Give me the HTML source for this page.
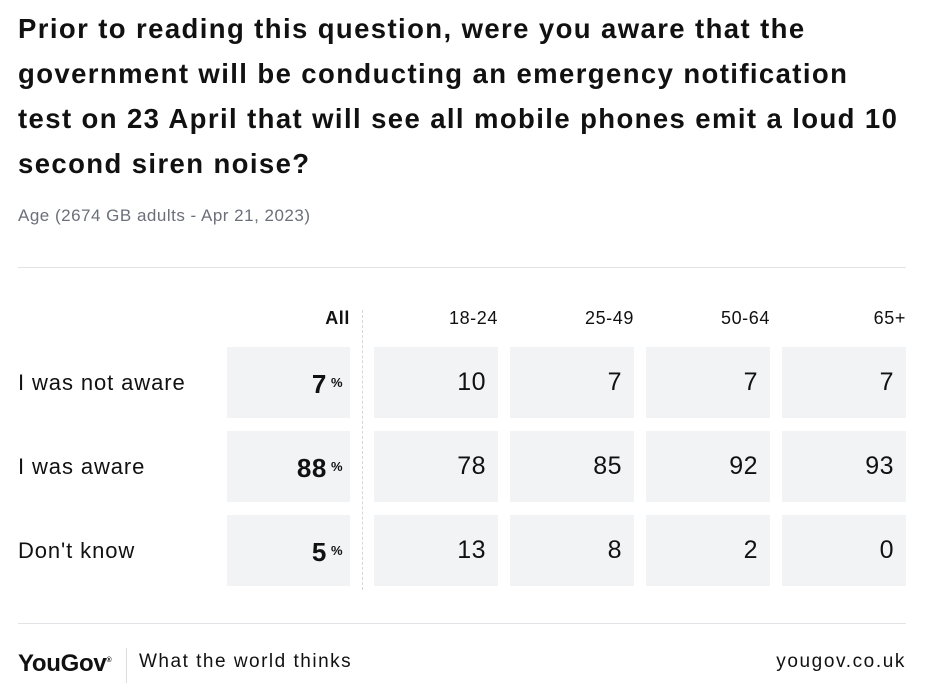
<!DOCTYPE html>
<html><head><meta charset="utf-8"><style>
body{margin:0;width:928px;height:693px;background:#fff;font-family:"Liberation Sans",sans-serif;color:#111;position:relative;overflow:hidden}
.a{position:absolute}
h1{position:absolute;left:18px;top:6px;width:910px;margin:0;font-size:27.5px;line-height:45px;font-weight:bold;letter-spacing:1.4px;white-space:nowrap}
.cell{position:absolute;background:#f2f3f5;height:71px;font-size:25px;line-height:71px;text-align:right;box-sizing:border-box;letter-spacing:0.5px}
.lab{position:absolute;left:18px;font-size:22px;line-height:71px;letter-spacing:0.9px}
.hd{position:absolute;top:308px;font-size:18px;text-align:right;letter-spacing:0.6px}
</style></head><body>
<h1>Prior to reading this question, were you aware that the<br>government will be conducting an emergency notification<br>test on 23 April that will see all mobile phones emit a loud 10<br>second siren noise?</h1>
<div class="a" style="left:18px;top:206px;font-size:17px;letter-spacing:0.5px;color:#6b6f7a">Age (2674 GB adults - Apr 21, 2023)</div>
<div class="a" style="left:18px;top:267px;width:888px;height:1px;background:#e2e3e6"></div>
<div class="a" style="left:362px;top:310px;height:280px;border-left:1px dashed #d6d7db"></div>
<div id="tbl"></div>
<div class="a" style="left:18px;top:623px;width:888px;height:1px;background:#e2e3e6"></div>
<div class="a" style="left:18px;top:650px;font-size:24px;font-weight:bold;letter-spacing:-0.3px">YouGov<sup style="font-size:7px">®</sup></div>
<div class="a" style="left:126px;top:648px;width:1px;height:35px;background:#ddd"></div>
<div class="a" style="left:139px;top:651px;font-size:19px;letter-spacing:1.5px">What the world thinks</div>
<div class="a" style="right:22px;top:651px;font-size:19px;letter-spacing:1.6px">yougov.co.uk</div>
<script>
const groups=["18-24","25-49","50-64","65+"];
const rowsLabels=["I was not aware","I was aware","Don't know"];
const allValues=[7,88,5];
const groupValues=[[10,7,7,7],[78,85,92,93],[13,8,2,0]];
const t=document.getElementById('tbl');
function mk(cls,style,txt,name){const d=document.createElement('div');d.className=cls;d.style.cssText=style;d.innerHTML=txt;


t.appendChild(d);return d;}
mk('hd','left:227px;width:123px;font-weight:bold','All','header-all');
groups.forEach((g,i)=>{const x=374+i*136;mk('hd','left:'+x+'px;width:124px',g,'header-'+g);});
rowsLabels.forEach((r,j)=>{const y=347+j*84;
mk('lab','top:'+y+'px',r,'row-label');
mk('cell','left:227px;top:'+y+'px;width:123px;padding-right:7px;font-size:26px','<b>'+allValues[j]+'</b><span style="font-size:13px;font-weight:bold;vertical-align:6px"> %</span>','all-value');
groupValues[j].forEach((v,i)=>{const x=374+i*136;mk('cell','left:'+x+'px;top:'+y+'px;width:124px;padding-right:12px',v,'cell-value');});
});
</script>
</body></html>
